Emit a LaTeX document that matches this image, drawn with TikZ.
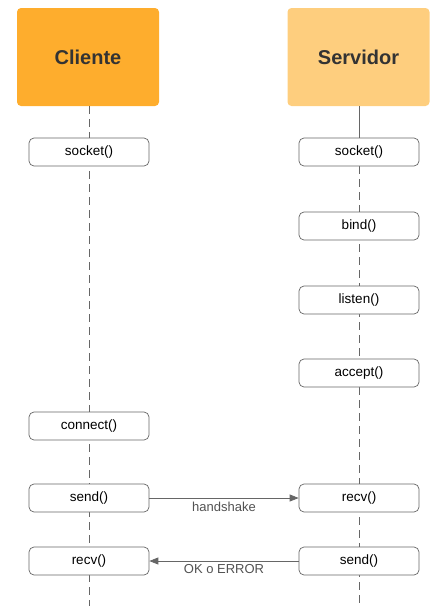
\documentclass[tikz,border=0pt]{standalone}
\usepackage{fontspec}
\setmainfont{Liberation Sans}
\usetikzlibrary{arrows.meta}
\definecolor{clientecol}{HTML}{FEAD2D}
\definecolor{servidorcol}{HTML}{FECE7E}
\definecolor{textcol}{HTML}{333333}
\definecolor{linecol}{HTML}{666666}
\tikzset{
  header/.style={rounded corners=4pt, minimum width=142pt, minimum height=98pt, text=textcol, font=\fontsize{20}{24}\selectfont\bfseries},
  call/.style={draw=linecol, fill=white, line width=0.7pt, rounded corners=5pt, minimum width=120pt, minimum height=28pt, text=black, font=\fontsize{13.5}{16}\selectfont},
  lifeline/.style={draw=linecol, line width=0.8pt, dash pattern=on 8pt off 5pt},
  msg/.style={draw=linecol, line width=0.8pt, -{Triangle[width=7pt,length=9pt]}},
  msglabel/.style={text=textcol!85, font=\fontsize{13}{15}\selectfont}
}
\begin{document}
\begin{tikzpicture}[x=1pt,y=-1pt]
\useasboundingbox (0,0) rectangle (444,606);
% headers
\node[header, fill=clientecol] (cliente) at (88,57) {Cliente};
\node[header, fill=servidorcol] (servidor) at (358.5,57) {Servidor};
% lifelines
\coordinate (cend) at (89,606);
\coordinate (send) at (359,606);
\draw[lifeline] (cliente.south -| cend) -- (cend);
\draw[draw=linecol, line width=0.8pt] (servidor.south -| send) -- (359,138);
\draw[lifeline] (359,166) -- (send);
% client calls
\node[call] (csocket) at (89,152) {socket()};
\node[call] (cconnect) at (89,426) {connect()};
\node[call] (csend) at (89,498) {send()};
\node[call] (crecv) at (89,561) {recv()};
% server calls
\node[call] (ssocket) at (359,152) {socket()};
\node[call] (sbind) at (359,226) {bind()};
\node[call] (slisten) at (359,300) {listen()};
\node[call] (saccept) at (359,373) {accept()};
\node[call] (srecv) at (359,498) {recv()};
\node[call] (ssend) at (359,561) {send()};
% messages
\draw[msg] (csend.east) -- node[msglabel, below=0pt] {handshake} (srecv.west);
\draw[msg] (ssend.west) -- node[msglabel, below=0pt] {OK o ERROR} (crecv.east);
\end{tikzpicture}
\end{document}
